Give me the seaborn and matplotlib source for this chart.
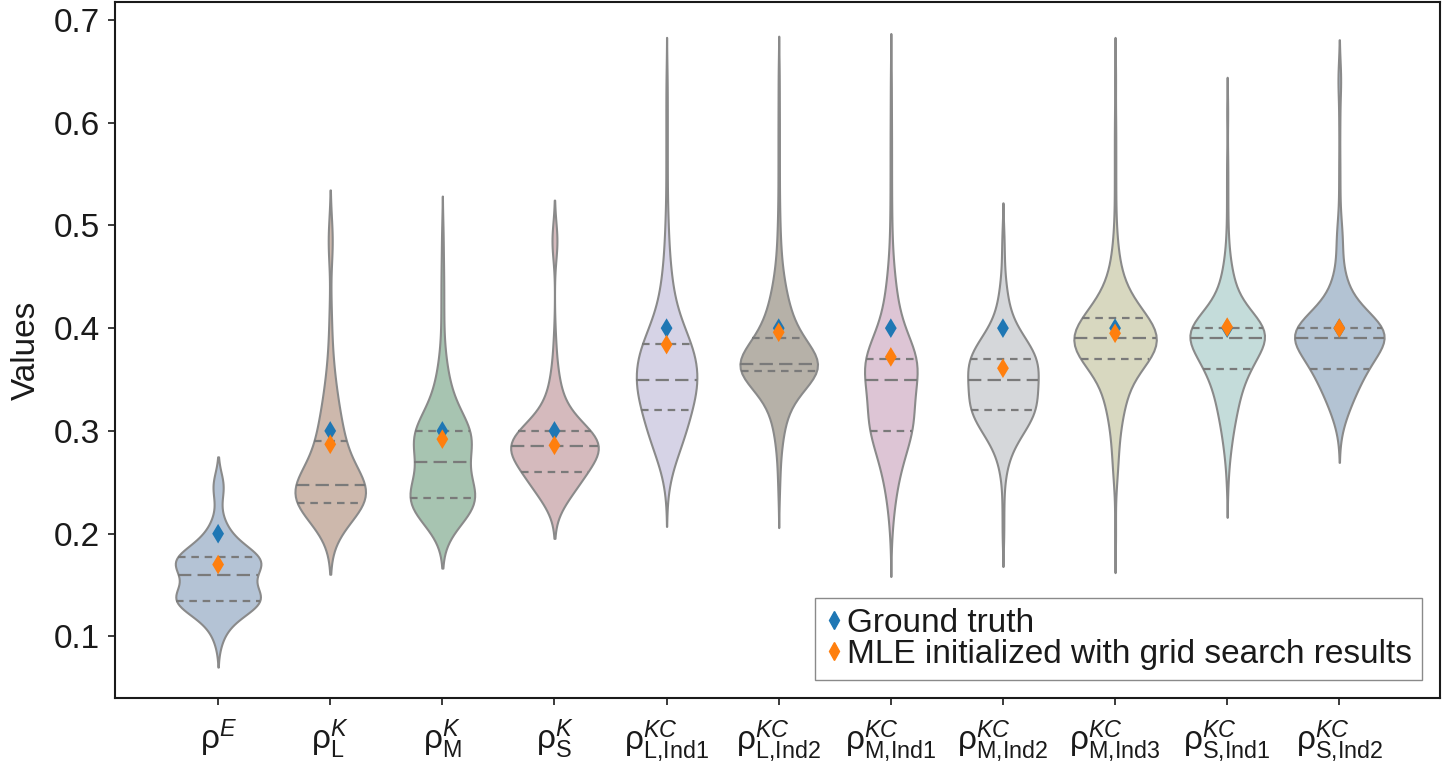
import matplotlib
matplotlib.use("Agg")
import matplotlib.pyplot as plt
from matplotlib.lines import Line2D
import numpy as np
import pandas as pd
import seaborn as sns

# x categories (tick labels)
labels = [
    r"$\mathrm{ρ}^{E}$",
    r"$\mathrm{ρ}^{K}_{\mathrm{L}}$",
    r"$\mathrm{ρ}^{K}_{\mathrm{M}}$",
    r"$\mathrm{ρ}^{K}_{\mathrm{S}}$",
    r"$\mathrm{ρ}^{KC}_{\mathrm{L{,}Ind1}}$",
    r"$\mathrm{ρ}^{KC}_{\mathrm{L{,}Ind2}}$",
    r"$\mathrm{ρ}^{KC}_{\mathrm{M{,}Ind1}}$",
    r"$\mathrm{ρ}^{KC}_{\mathrm{M{,}Ind2}}$",
    r"$\mathrm{ρ}^{KC}_{\mathrm{M{,}Ind3}}$",
    r"$\mathrm{ρ}^{KC}_{\mathrm{S{,}Ind1}}$",
    r"$\mathrm{ρ}^{KC}_{\mathrm{S{,}Ind2}}$",
]

# estimates per parameter, read off the violins as value / count pairs
rho_E_vals = [0.095, 0.10, 0.11, 0.12, 0.13, 0.135, 0.14, 0.15, 0.16, 0.17, 0.175, 0.18, 0.19, 0.20, 0.21, 0.22, 0.24, 0.25]
rho_E_counts = [1, 1, 3, 6, 12, 8, 12, 9, 9, 14, 8, 10, 6, 4, 2, 1, 2, 3]

rho_KL_vals = [0.205, 0.21, 0.22, 0.23, 0.24, 0.245, 0.25, 0.26, 0.27, 0.28, 0.29, 0.30, 0.31, 0.32, 0.33, 0.34, 0.35, 0.36, 0.37, 0.38, 0.40, 0.42, 0.48, 0.49]
rho_KL_counts = [2, 3, 10, 18, 18, 10, 8, 7, 7, 6, 5, 5, 4, 3, 3, 2, 2, 1, 1, 1, 1, 1, 2, 2]

rho_KM_vals = [0.205, 0.21, 0.22, 0.23, 0.24, 0.25, 0.26, 0.27, 0.28, 0.29, 0.30, 0.31, 0.32, 0.33, 0.34, 0.35, 0.36, 0.37, 0.38, 0.40, 0.42, 0.44, 0.46, 0.49]
rho_KM_counts = [2, 4, 12, 17, 14, 9, 7, 7, 10, 13, 13, 8, 5, 4, 3, 2, 2, 1, 1, 1, 1, 1, 1, 1]

rho_KS_vals = [0.23, 0.235, 0.24, 0.25, 0.26, 0.27, 0.28, 0.29, 0.30, 0.31, 0.32, 0.33, 0.34, 0.35, 0.36, 0.37, 0.39, 0.48, 0.49]
rho_KS_counts = [2, 3, 6, 10, 12, 13, 18, 26, 12, 7, 5, 3, 2, 2, 1, 1, 1, 2, 2]

kc_L1_vals = [0.25, 0.26, 0.27, 0.28, 0.29, 0.30, 0.31, 0.32, 0.33, 0.34, 0.35, 0.36, 0.37, 0.38, 0.39, 0.40, 0.41, 0.42, 0.43, 0.44, 0.45, 0.46, 0.47, 0.48, 0.49, 0.50, 0.52, 0.55, 0.58, 0.61, 0.64]
kc_L1_counts = [1, 2, 3, 6, 8, 10, 10, 10, 14, 15, 15, 14, 14, 15, 9, 8, 6, 4, 3, 3, 2, 2, 1, 1, 1, 1, 1, 1, 1, 1, 1]

kc_L2_vals = [0.245, 0.26, 0.28, 0.29, 0.30, 0.31, 0.32, 0.33, 0.34, 0.35, 0.355, 0.36, 0.37, 0.38, 0.39, 0.40, 0.41, 0.42, 0.43, 0.44, 0.45, 0.46, 0.48, 0.50, 0.52, 0.55, 0.58, 0.61, 0.645]
kc_L2_counts = [1, 1, 1, 2, 2, 3, 4, 6, 8, 8, 4, 40, 18, 14, 10, 8, 6, 5, 4, 3, 2, 2, 2, 1, 1, 1, 1, 1, 1]

kc_M1_vals = [0.205, 0.22, 0.23, 0.24, 0.25, 0.26, 0.27, 0.28, 0.29, 0.30, 0.31, 0.32, 0.33, 0.34, 0.35, 0.36, 0.37, 0.38, 0.39, 0.40, 0.41, 0.42, 0.43, 0.44, 0.45, 0.46, 0.47, 0.49, 0.51, 0.54, 0.57, 0.60, 0.64]
kc_M1_counts = [1, 1, 2, 2, 3, 4, 5, 6, 8, 12, 14, 10, 8, 8, 11, 16, 19, 10, 6, 5, 4, 3, 3, 2, 2, 1, 1, 1, 1, 1, 1, 1, 1]

kc_M2_vals = [0.20, 0.23, 0.26, 0.27, 0.28, 0.29, 0.30, 0.31, 0.32, 0.33, 0.34, 0.35, 0.36, 0.37, 0.38, 0.39, 0.40, 0.41, 0.42, 0.43, 0.44, 0.45, 0.47, 0.49]
kc_M2_counts = [1, 1, 2, 1, 3, 5, 8, 11, 14, 13, 12, 13, 14, 14, 12, 8, 5, 3, 2, 2, 1, 1, 1, 1]

kc_M3_vals = [0.20, 0.25, 0.26, 0.27, 0.28, 0.29, 0.30, 0.31, 0.32, 0.33, 0.34, 0.35, 0.36, 0.37, 0.38, 0.39, 0.40, 0.41, 0.42, 0.43, 0.44, 0.45, 0.46, 0.47, 0.48, 0.49, 0.51, 0.54, 0.57, 0.60, 0.645]
kc_M3_counts = [1, 1, 1, 2, 1, 2, 2, 3, 4, 5, 6, 7, 8, 20, 22, 23, 22, 16, 10, 7, 5, 3, 2, 2, 1, 1, 1, 1, 1, 1, 1]

kc_S1_vals = [0.25, 0.27, 0.28, 0.29, 0.30, 0.31, 0.32, 0.33, 0.34, 0.35, 0.36, 0.37, 0.38, 0.39, 0.40, 0.41, 0.42, 0.43, 0.44, 0.45, 0.46, 0.47, 0.48, 0.50, 0.53, 0.56, 0.61]
kc_S1_counts = [1, 1, 2, 2, 3, 4, 5, 6, 7, 8, 12, 14, 16, 24, 26, 14, 8, 5, 4, 3, 2, 1, 1, 1, 1, 1, 1]

kc_S2_vals = [0.305, 0.31, 0.32, 0.33, 0.34, 0.35, 0.36, 0.37, 0.38, 0.39, 0.40, 0.41, 0.42, 0.43, 0.44, 0.45, 0.46, 0.48, 0.49, 0.50, 0.53, 0.56, 0.60, 0.635, 0.645]
kc_S2_counts = [1, 2, 5, 7, 9, 11, 16, 14, 22, 28, 36, 14, 9, 6, 4, 3, 2, 2, 3, 1, 1, 1, 1, 1, 2]

ground_truth = [0.20, 0.30, 0.30, 0.30, 0.40, 0.40, 0.40, 0.40, 0.40, 0.40, 0.40]
mle_grid = [0.170, 0.287, 0.292, 0.286, 0.384, 0.396, 0.372, 0.361, 0.395, 0.401, 0.400]

# styling
fill_colors = ["#b4c3d5", "#cdb8ac", "#a7c4b1", "#d5babd", "#d6d3e6", "#b6b1a8",
               "#ddc5d5", "#d5d7da", "#d8d8c0", "#c4dcda", "#b3c3d3"]
violin_widths = [0.763, 0.629, 0.576, 0.781, 0.540, 0.692, 0.469, 0.629, 0.736, 0.665, 0.799]
gt_color = "#1f77b4"
mle_color = "#ff7f0e"
gt_name = "Ground truth"
mle_name = "MLE initialized with grid search results"

sns.set_style("ticks")
plt.rcParams.update({
    "font.family": ["Liberation Sans", "DejaVu Sans"],
    "mathtext.fontset": "custom",
    "mathtext.rm": "Liberation Sans",
    "mathtext.it": "Liberation Sans:italic",
    "mathtext.bf": "Liberation Sans:bold",
    "axes.edgecolor": "#1a1a1a",
    "axes.linewidth": 1.5,
    "xtick.major.size": 5,
    "ytick.major.size": 5,
    "xtick.major.width": 1.2,
    "ytick.major.width": 1.2,
    "xtick.color": "#1a1a1a",
    "ytick.color": "#1a1a1a",
    "text.color": "#1a1a1a",
    "axes.labelcolor": "#1a1a1a",
})

samples = [
    (rho_E_vals, rho_E_counts), (rho_KL_vals, rho_KL_counts),
    (rho_KM_vals, rho_KM_counts), (rho_KS_vals, rho_KS_counts),
    (kc_L1_vals, kc_L1_counts), (kc_L2_vals, kc_L2_counts),
    (kc_M1_vals, kc_M1_counts), (kc_M2_vals, kc_M2_counts),
    (kc_M3_vals, kc_M3_counts), (kc_S1_vals, kc_S1_counts),
    (kc_S2_vals, kc_S2_counts),
]

pts = pd.DataFrame({
    "param": labels * 2,
    "value": ground_truth + mle_grid,
    "kind": [gt_name] * len(labels) + [mle_name] * len(labels),
})

fig, ax = plt.subplots(figsize=(14.46, 7.74), dpi=100)
fig.subplots_adjust(left=0.0795, right=0.996, top=0.997, bottom=0.098)

# one call per parameter so each violin keeps its own width
for lab, (vals, cnts), col, w in zip(labels, samples, fill_colors, violin_widths):
    sub = pd.DataFrame({"param": lab, "value": np.repeat(vals, cnts)})
    sns.violinplot(
        data=sub, x="param", y="value", order=labels, color=col, saturation=1,
        inner="quart", density_norm="width", width=w,
        linecolor="#8a8a8a", linewidth=1.5,
        inner_kws={"color": "#7a7a7a", "linewidth": 1.6}, ax=ax,
    )

# quartiles: short dashes, median: long dashes
for i, ln in enumerate(ax.lines):
    if i % 3 == 1:
        ln.set_dashes((6.0, 2.8))
    else:
        ln.set_dashes((3.4, 2.6))

sns.stripplot(
    data=pts, x="param", y="value", hue="kind", order=labels,
    hue_order=[gt_name, mle_name], palette=[gt_color, mle_color],
    jitter=False, dodge=False, marker="d", size=10, linewidth=0,
    legend=False, ax=ax, zorder=4,
)

ax.set_xlim(-0.92, 10.9)
ax.set_ylim(0.04, 0.717)
ax.set_yticks([0.1, 0.2, 0.3, 0.4, 0.5, 0.6, 0.7])
ax.set_yticklabels(["0.1", "0.2", "0.3", "0.4", "0.5", "0.6", "0.7"])
ax.tick_params(axis="y", labelsize=24, pad=6)
ax.tick_params(axis="x", labelsize=24, pad=9)
ax.set_xlabel("")
ax.set_ylabel("Values", fontsize=24, labelpad=8)

handles = [
    Line2D([], [], linestyle="none", marker="d", markersize=9, color=gt_color),
    Line2D([], [], linestyle="none", marker="d", markersize=9, color=mle_color),
]
ax.legend(
    handles, [gt_name, mle_name], loc="lower right", fontsize=24,
    frameon=True, fancybox=False, edgecolor="#8a8a8a", framealpha=1,
    borderpad=0.3, labelspacing=0.0, handlelength=0.5, handletextpad=0.15,
    borderaxespad=0.55,
)

fig.savefig("out.png", dpi=100)
